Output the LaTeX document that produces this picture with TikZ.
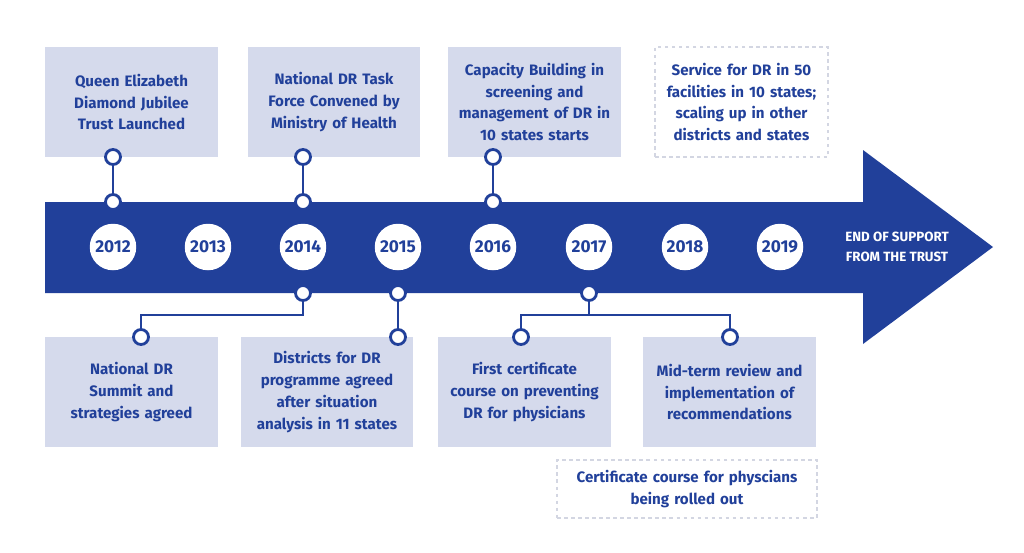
\documentclass[tikz,border=0pt]{standalone}
\usepackage{fontspec}
\setmainfont{Fira Sans}
\usepackage{tikz}

\definecolor{bandblue}{HTML}{21409A}
\definecolor{boxfill}{HTML}{D5DAEC}
\definecolor{dashgray}{HTML}{D3D6E2}

\tikzset{
    event/.style={fill=boxfill, minimum width=3.46cm, minimum height=2.2cm, text width=3.2cm,
        align=center, text=bandblue, font=\bfseries\fontsize{8.6}{12.5}\selectfont, inner sep=0pt},
    later/.style={event, fill=none, draw=dashgray, line width=0.8pt, dash pattern=on 2pt off 2pt},
    year/.style={circle, fill=white, minimum size=0.93cm, inner sep=0pt, text=bandblue,
        font=\bfseries\fontsize{9.8}{11}\selectfont},
    dot/.style={circle, draw=bandblue, fill=white, line width=1.6pt, minimum size=0.3cm, inner sep=0pt},
    link/.style={draw=bandblue, line width=1.6pt}
}

\begin{document}
\begin{tikzpicture}[x=0.02cm, y=-0.02cm]

    \useasboundingbox (0,0) rectangle (1024,552);

    % The timeline arrow
    \fill[bandblue] (45,202) -- (863,202) -- (863,150) -- (993,247)
        -- (863,344) -- (863,293) -- (45,293) -- cycle;
    \node[text=white, align=center, font=\bfseries\fontsize{7.6}{11.3}\selectfont]
        (end) at (897,247) {END OF SUPPORT\\FROM THE TRUST};

    % Years on the band
    \foreach \yr/\x in {2012/113, 2013/208, 2014/303, 2015/398, 2016/493, 2017/589, 2018/685, 2019/780} {
        \node[year] (y\yr) at (\x,247) {\yr};
    }

    % Events above the band
    \node[event] (a1) at (131.5,102) {Queen Elizabeth\\Diamond Jubilee\\Trust Launched};
    \node[event] (a2) at (334,102) {National DR Task\\Force Convened by\\Ministry of Health};
    \node[event] (a3) at (534.5,102) {Capacity Building in\\screening and\\management of DR in\\10 states starts};
    \node[later] (a4) at (741.5,102) {Service for DR in 50\\facilities in 10 states;\\scaling up in other\\districts and states};

    % Events below the band
    \node[event] (b1) at (131.5,392) {National DR\\Summit and\\strategies agreed};
    \node[event] (b2) at (327,392) {Districts for DR\\programme agreed\\after situation\\analysis in 11 states};
    \node[event] (b3) at (524.5,392) {First certificate\\course on preventing\\DR for physicians};
    \node[event] (b4) at (729.5,392) {Mid-term review and\\implementation of\\recommendations};
    \node[later, minimum width=5.2cm, minimum height=1.16cm, text width=5cm]
        (b5) at (687,489) {Certificate course for physcians\\being rolled out};

    % Dots at both ends of the links
    \foreach \n/\x/\y in {t12/113/157, u12/113/202, t14/303/157, u14/303/202, t16/493/157, u16/493/202,
                          d14/303/293, d15/398/293, d17/589/293,
                          e1/141/337, e2/398/337, e3/521/337, e4/730/337} {
        \node[dot] (\n) at (\x,\y) {};
    }
    \coordinate (j14) at (303,315);
    \coordinate (j17) at (589,315);

    % Links
    \draw[link] (t12) -- (u12);
    \draw[link] (t14) -- (u14);
    \draw[link] (t16) -- (u16);
    \draw[link] (d14) -- (j14) -| (e1);
    \draw[link] (d15) -- (e2);
    \draw[link] (d17) -- (j17) -| (e3);
    \draw[link] (j17) -| (e4);

\end{tikzpicture}
\end{document}
